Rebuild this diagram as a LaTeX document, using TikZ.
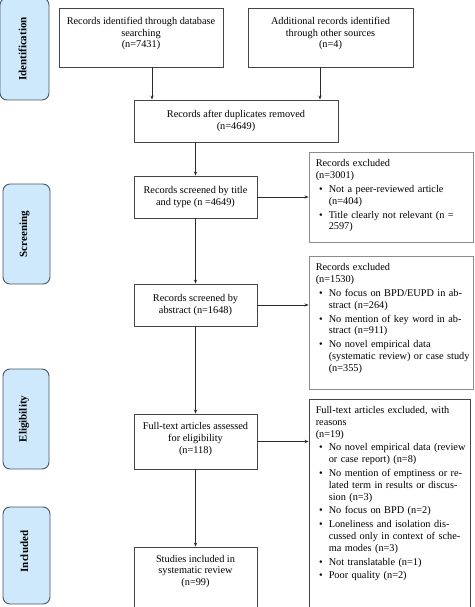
\documentclass[tikz,border=0pt]{standalone}
\usepackage{fontspec}
\setmainfont{Liberation Serif}
\usepackage{enumitem}
\usetikzlibrary{arrows.meta}
\definecolor{sidefill}{HTML}{CDE9FB}
\definecolor{sidedraw}{HTML}{4A5663}
\definecolor{boxdraw}{HTML}{454545}
\definecolor{lightdraw}{HTML}{8C8C8C}
\definecolor{arrowc}{HTML}{2B2B2B}
\newlist{exlist}{itemize}{1}
\setlist[exlist]{label=\textbullet,leftmargin=13pt,labelsep=6pt,topsep=2pt,partopsep=0pt,itemsep=2pt,parsep=0pt}
\begin{document}
\begin{tikzpicture}[x=1pt,y=-1pt,
  mainfont/.style={font=\fontsize{10.3}{11.8}\selectfont},
  box/.style={draw=boxdraw,line width=0.9pt,fill=white,inner sep=0pt,mainfont,align=center},
  exbox/.style={draw=lightdraw,line width=0.9pt,fill=white,inner sep=0pt},
  txt/.style={inner sep=0pt,mainfont,align=center},
  extxt/.style={inner sep=0pt,mainfont,align=left,text width=158pt,anchor=north west},
  side/.style={draw=sidedraw,fill=sidefill,line width=0.9pt,rounded corners=7pt,inner sep=0pt},
  sidetxt/.style={inner sep=0pt,font=\fontsize{11}{13}\selectfont\bfseries,rotate=90},
  conn/.style={draw=arrowc,line width=0.8pt,-{Stealth[length=4pt,width=3.2pt]}}]
\useasboundingbox (0,0) rectangle (474,607);
\clip (0,0) rectangle (474,607);
\fill[white] (0,0) rectangle (474,607);

% side phase boxes
\node[side,minimum width=49,minimum height=102] (s1) at (24.5,49) {};
\node[sidetxt] (l1) at ([xshift=-2]s1.center) {Identification};
\node[side,minimum width=47,minimum height=100] (s2) at (26.5,234) {};
\node[sidetxt] (l2) at ([xshift=-2]s2.center) {Screening};
\node[side,minimum width=46,minimum height=100] (s3) at (26,419) {};
\node[sidetxt] (l3) at ([xshift=-2]s3.center) {Eligibility};
\node[side,minimum width=47,minimum height=97] (s4) at (26.5,555.5) {};
\node[sidetxt] (l4) at ([xshift=-2,yshift=4]s4.center) {Included};

% main boxes
\node[box,minimum width=164,minimum height=59] (b1) at (141,37.5) {};
\node[txt] (t1) at ([yshift=4]b1.center) {Records identified through database\\searching\\(n=7431)};
\node[box,minimum width=165,minimum height=59] (b2) at (330.5,37.5) {};
\node[txt] (t2) at ([yshift=4]b2.center) {Additional records identified\\through other sources\\(n=4)};
\node[box,minimum width=204,minimum height=42] (b3) at (236,121) {Records after duplicates removed\\(n=4649)};
\node[box,minimum width=123,minimum height=42] (b4) at (195.5,197) {Records screened by title\\and type (n =4649)};
\node[box,minimum width=123,minimum height=42] (b5) at (195.5,305) {Records screened by\\abstract (n=1648)};
\node[box,minimum width=123,minimum height=55] (b6) at (195.5,441.5) {};
\node[txt] (t6) at ([yshift=2.5]b6.center) {Full-text articles assessed\\for eligibility\\(n=118)};
\node[box,minimum width=123,minimum height=73] (b7) at (195.5,583.5) {};
\node[txt] (t7) at ([yshift=12]b7.center) {Studies included in\\systematic review\\(n=99)};

% exclusion boxes
\node[exbox,minimum width=164,minimum height=90] (e1) at (391,197) {};
\node[extxt] (x1) at ([xshift=7,yshift=-8]e1.north west) {Records excluded\\(n=3001)
\begin{exlist}
\item Not a peer-reviewed article\\(n=404)
\item Title clearly not relevant (n =\\2597)
\end{exlist}};
\node[exbox,minimum width=164,minimum height=133] (e2) at (391,322.5) {};
\node[extxt] (x2) at ([xshift=7,yshift=-8]e2.north west) {Records excluded\\(n=1530)
\begin{exlist}
\item No focus on BPD/EUPD in ab-\\stract (n=264)
\item No mention of key word in ab-\\stract (n=911)
\item No novel empirical data\\(systematic review) or case study\\(n=355)
\end{exlist}};
\node[exbox,draw=boxdraw,minimum width=161,minimum height=221] (e3) at (389.5,509.5) {};
\node[extxt] (x3) at ([xshift=7,yshift=-7.5]e3.north west) {Full-text articles excluded, with\\reasons\\(n=19)
\begin{exlist}
\item No novel empirical data (review\\or case report) (n=8)
\item No mention of emptiness or re-\\lated term in results or discus-\\sion (n=3)
\item No focus on BPD (n=2)
\item Loneliness and isolation dis-\\cussed only in context of sche-\\ma modes (n=3)
\item Not translatable (n=1)
\item Poor quality (n=2)
\end{exlist}};

% connectors
\draw[conn] ([xshift=11]b1.south) -- ([xshift=11]b1.south |- b3.north);
\draw[conn] ([xshift=-10.5]b2.south) -- ([xshift=-10.5]b2.south |- b3.north);
\draw[conn] (b3.south -| b4.north) -- (b4.north);
\draw[conn] (b4.south) -- (b5.north);
\draw[conn] (b5.south) -- (b6.north);
\draw[conn] (b6.south) -- (b7.north);
\draw[conn] (b4.east) -- (b4.east -| e1.west);
\draw[conn] (b5.east) -- (b5.east -| e2.west);
\draw[conn] (b6.east) -- (b6.east -| e3.west);
\end{tikzpicture}
\end{document}
